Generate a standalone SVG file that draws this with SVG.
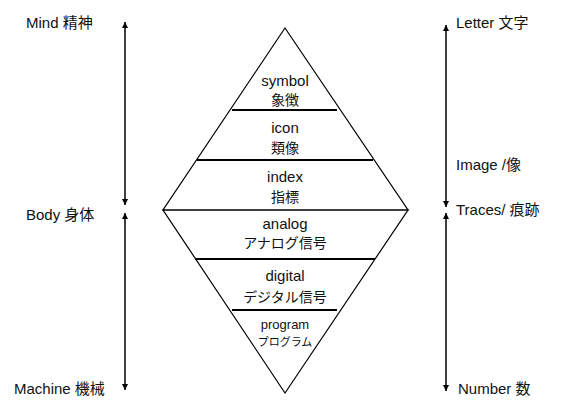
<svg xmlns="http://www.w3.org/2000/svg" width="568" height="420" viewBox="0 0 568 420">
<style>
text{font-family:"Liberation Sans","Noto Sans CJK JP",sans-serif;font-size:15px;fill:#111;dominant-baseline:central}
.c{text-anchor:middle}
.j{font-size:14px}
.s{font-size:13px}
.sj{font-size:11px}
.tri{fill:none;stroke:#000;stroke-width:1.2}
.sep{stroke:#000;stroke-width:2}
.arr{stroke:#000;stroke-width:1.5;fill:none}
</style>
<defs>
<marker id="ah" viewBox="0 0 10 10" refX="10" refY="5" markerWidth="6" markerHeight="7" markerUnits="userSpaceOnUse" orient="auto"><path d="M0,0 L10,5 L0,10 z" fill="#000"/></marker>
</defs>
<rect width="568" height="420" fill="#fff"/>
<g id="pyramid">
<polygon class="tri" points="285,28 408,210 163,210"/>
<polygon class="tri" points="163,210 408,210 285,393"/>
</g>
<g id="connectors">
<line class="sep" x1="232" y1="110" x2="337" y2="110"/>
<line class="sep" x1="197" y1="160" x2="373" y2="160"/>
<line class="sep" x1="195" y1="259" x2="375" y2="259"/>
<line class="sep" x1="232" y1="310" x2="337" y2="310"/>
<line class="arr" x1="125" y1="120" x2="125" y2="22" marker-end="url(#ah)"/>
<line class="arr" x1="125" y1="120" x2="125" y2="205" marker-end="url(#ah)"/>
<line class="arr" x1="125" y1="300" x2="125" y2="213" marker-end="url(#ah)"/>
<line class="arr" x1="125" y1="300" x2="125" y2="390" marker-end="url(#ah)"/>
<line class="arr" x1="446" y1="120" x2="446" y2="25" marker-end="url(#ah)"/>
<line class="arr" x1="446" y1="120" x2="446" y2="207" marker-end="url(#ah)"/>
<line class="arr" x1="446" y1="300" x2="446" y2="213" marker-end="url(#ah)"/>
<line class="arr" x1="446" y1="300" x2="446" y2="391" marker-end="url(#ah)"/>
</g>
<g id="symbol"><text class="c" x="285" y="80">symbol</text><text class="c j" x="285" y="100">象徴</text></g>
<g id="icon"><text class="c" x="285" y="127">icon</text><text class="c j" x="285" y="148">類像</text></g>
<g id="index"><text class="c" x="285" y="176">index</text><text class="c j" x="285" y="197">指標</text></g>
<g id="analog"><text class="c" x="285" y="223">analog</text><text class="c j" x="285" y="243">アナログ信号</text></g>
<g id="digital"><text class="c" x="285" y="275">digital</text><text class="c j" x="285" y="297">デジタル信号</text></g>
<g id="program"><text class="c s" x="285" y="324">program</text><text class="c sj" x="285" y="342">プログラム</text></g>
<g id="mind"><text x="26" y="22">Mind 精神</text></g>
<g id="body"><text x="26" y="214">Body 身体</text></g>
<g id="machine"><text x="14" y="388">Machine 機械</text></g>
<g id="letter"><text x="456" y="22">Letter 文字</text></g>
<g id="image"><text x="456" y="164">Image /像</text></g>
<g id="traces"><text x="456" y="209">Traces/ 痕跡</text></g>
<g id="number"><text x="458" y="388">Number 数</text></g>
</svg>
